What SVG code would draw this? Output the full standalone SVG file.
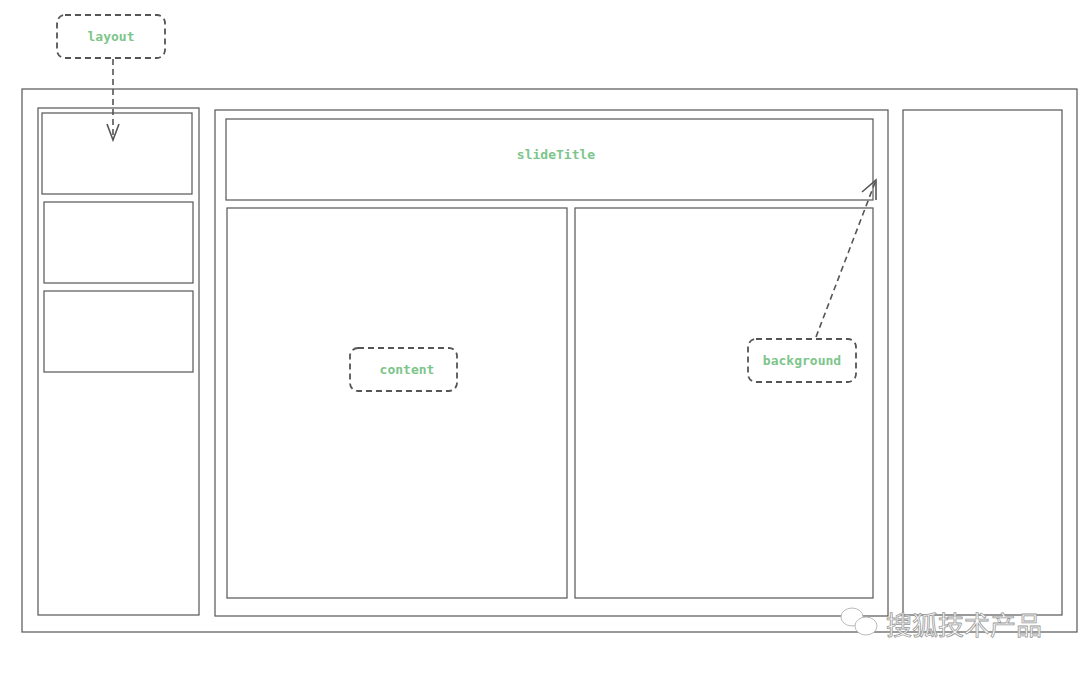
<svg xmlns="http://www.w3.org/2000/svg" width="1080" height="673" viewBox="0 0 1080 673">
<style>
.box{fill:none;stroke:#555;stroke-width:1.2}
.dash{fill:#fff;stroke:#555;stroke-width:1.8;stroke-dasharray:6 4}
.lbl{font-family:"DejaVu Sans Mono",monospace;font-size:13px;font-weight:bold;fill:#7cc58a;text-anchor:middle}
.conn{fill:none;stroke:#555;stroke-width:1.6;stroke-dasharray:6 4}
.head{fill:none;stroke:#555;stroke-width:1.6}
</style>
<rect width="1080" height="673" fill="#fff"/>
<g id="outer"><rect class="box" x="22" y="89" width="1055" height="543"/></g>
<g id="sidebar"><rect class="box" x="38" y="108" width="161" height="507"/>
<rect class="box" x="42" y="113" width="150" height="81"/>
<rect class="box" x="44" y="202" width="149" height="81"/>
<rect class="box" x="44" y="291" width="149" height="81"/></g>
<g id="main"><rect class="box" x="215" y="110" width="673" height="506"/></g>
<g id="slideTitle"><rect class="box" x="226" y="119" width="647" height="81"/><text class="lbl" x="556" y="159">slideTitle</text></g>
<g id="left-pane"><rect class="box" x="227" y="208" width="340" height="390"/></g>
<g id="right-pane"><rect class="box" x="575" y="208" width="298" height="390"/></g>
<g id="right-panel"><rect class="box" x="903" y="110" width="159" height="505"/></g>
<g id="layout"><rect class="dash" x="57" y="15" width="108" height="43" rx="8"/><text class="lbl" x="111" y="41">layout</text></g>
<g id="content"><rect class="dash" x="350" y="348" width="107" height="43" rx="8"/><text class="lbl" x="407" y="374">content</text></g>
<g id="background"><rect class="dash" x="748" y="339" width="108" height="43" rx="8"/><text class="lbl" x="802" y="365">background</text></g>
<g id="connectors">
<path class="conn" d="M113 59 L113 140"/>
<path class="head" d="M107 124 L113 140 L119 124"/>
<path class="conn" d="M816 337 L876 180"/>
<path class="head" d="M862 192 L876 180 L876 200"/>
</g>
<g id="watermark">
<ellipse cx="852" cy="617" rx="11" ry="9" fill="#fff" stroke="#bbb"/>
<ellipse cx="866" cy="626" rx="11" ry="9" fill="#fff" stroke="#bbb"/>
<text x="886" y="635" font-family="'Noto Sans CJK SC',sans-serif" font-size="26" fill="#fff" stroke="#999" stroke-width="0.8">搜狐技术产品</text>
</g>
</svg>
